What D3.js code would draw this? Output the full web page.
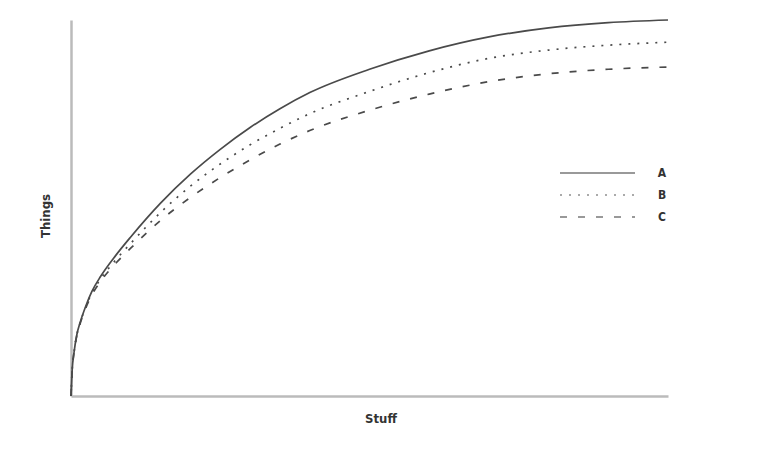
<!doctype html>
<html>
<head>
<style>
  body { margin: 0; background: #fff; }
  text { font-family: "DejaVu Sans Condensed", "DejaVu Sans", sans-serif; }
</style>
</head>
<body>
<div id="container"></div>
<script src="https://d3js.org/d3.v7.min.js"></script>
<script type="text/javascript">

    // values
    var stuff = [0, 0.02, 0.05, 0.1, 0.15, 0.25, 0.35, 0.5, 0.75, 1, 1.5, 2, 2.5, 3, 3.5, 4, 5, 6, 7, 8, 9, 10];
    var seriesA = [0, 7.0, 11.5, 16.5, 19.4, 24.0, 27.8, 31.9, 37.4, 42.3, 51.3, 59.0, 65.6, 71.4, 76.4, 80.7, 86.9, 91.8, 95.5, 97.9, 99.3, 100];
    var seriesB = [0, 7.0, 11.5, 16.4, 19.3, 23.8, 27.4, 31.2, 36.2, 40.6, 48.8, 55.8, 61.7, 66.8, 71.2, 75.1, 81.0, 86.0, 89.8, 92.0, 93.3, 94.1];
    var seriesC = [0, 7.0, 11.5, 16.3, 19.1, 23.5, 26.9, 30.6, 35.3, 39.3, 46.7, 52.8, 58.1, 62.8, 67.0, 70.6, 76.0, 80.3, 83.6, 85.7, 86.9, 87.5];
    var labels = ["A", "B", "C"];

    var width = 768, height = 449;
    var margin = {top: 20, right: 100, bottom: 53, left: 71};
    var innerwidth = width - margin.left - margin.right,
        innerheight = height - margin.top - margin.bottom;

    var styles = [
        {dash: null, color: "#4a4a4a", legend: "#999"},
        {dash: "2,7", color: "#4a4a4a", legend: "#aaa"},
        {dash: "7,11", color: "#4a4a4a", legend: "#999"}
    ];

    var svg = d3.select("#container").append("svg")
        .attr("width", width)
        .attr("height", height);

    var g = svg.append("g")
        .attr("transform", "translate(" + margin.left + "," + margin.top + ")");

    var x_scale = d3.scaleLinear().domain([0, 10]).range([0, innerwidth]);
    var y_scale = d3.scaleLinear().domain([0, 100]).range([innerheight, 0]);

    var draw_line = d3.line()
        .curve(d3.curveMonotoneX)
        .x(function (d) { return x_scale(d[0]); })
        .y(function (d) { return y_scale(d[1]); });

    var datasets = [seriesA, seriesB, seriesC].map(function (s) {
        return d3.zip(stuff, s);
    });

    // axes, no ticks
    g.append("g")
        .attr("transform", "translate(0," + innerheight + ")")
        .call(d3.axisBottom(x_scale).tickValues([]).tickSizeOuter(0))
        .call(function (a) { a.select(".domain").attr("stroke", "#bbb").attr("stroke-width", 2.5); });

    g.append("g")
        .call(d3.axisLeft(y_scale).tickValues([]).tickSizeOuter(0))
        .call(function (a) { a.select(".domain").attr("stroke", "#bbb").attr("stroke-width", 2.5); });

    g.selectAll(".series")
        .data(datasets)
        .enter().append("path")
        .attr("class", "series")
        .attr("d", draw_line)
        .attr("fill", "none")
        .attr("stroke", function (_, i) { return styles[i].color; })
        .attr("stroke-width", 1.7)
        .attr("stroke-dasharray", function (_, i) { return styles[i].dash; });

    g.append("text")
        .attr("x", 381 - margin.left)
        .attr("y", innerheight + 27)
        .attr("text-anchor", "middle")
        .attr("font-size", "13px")
        .attr("font-weight", "bold")
        .attr("fill", "#333")
        .text("Stuff");

    g.append("text")
        .attr("transform", "rotate(-90)")
        .attr("x", -(216 - margin.top))
        .attr("y", -21)
        .attr("text-anchor", "middle")
        .attr("font-size", "13px")
        .attr("font-weight", "bold")
        .attr("fill", "#333")
        .text("Things");

    // legend
    var legend = svg.append("g").attr("transform", "translate(560,173)");
    var items = legend.selectAll("g")
        .data(labels)
        .enter().append("g")
        .attr("transform", function (_, i) { return "translate(0," + (i * 22) + ")"; });

    items.append("line")
        .attr("x1", 0).attr("x2", 75)
        .attr("stroke", function (_, i) { return styles[i].legend; })
        .attr("stroke-width", 2.2)
        .attr("stroke-dasharray", function (_, i) { return styles[i].dash; });

    items.append("text")
        .attr("x", 102)
        .attr("dy", "0.36em")
        .attr("text-anchor", "middle")
        .attr("font-size", "12px")
        .attr("font-weight", "bold")
        .attr("fill", "#333")
        .text(function (d) { return d; });
</script>
</body>
</html>
